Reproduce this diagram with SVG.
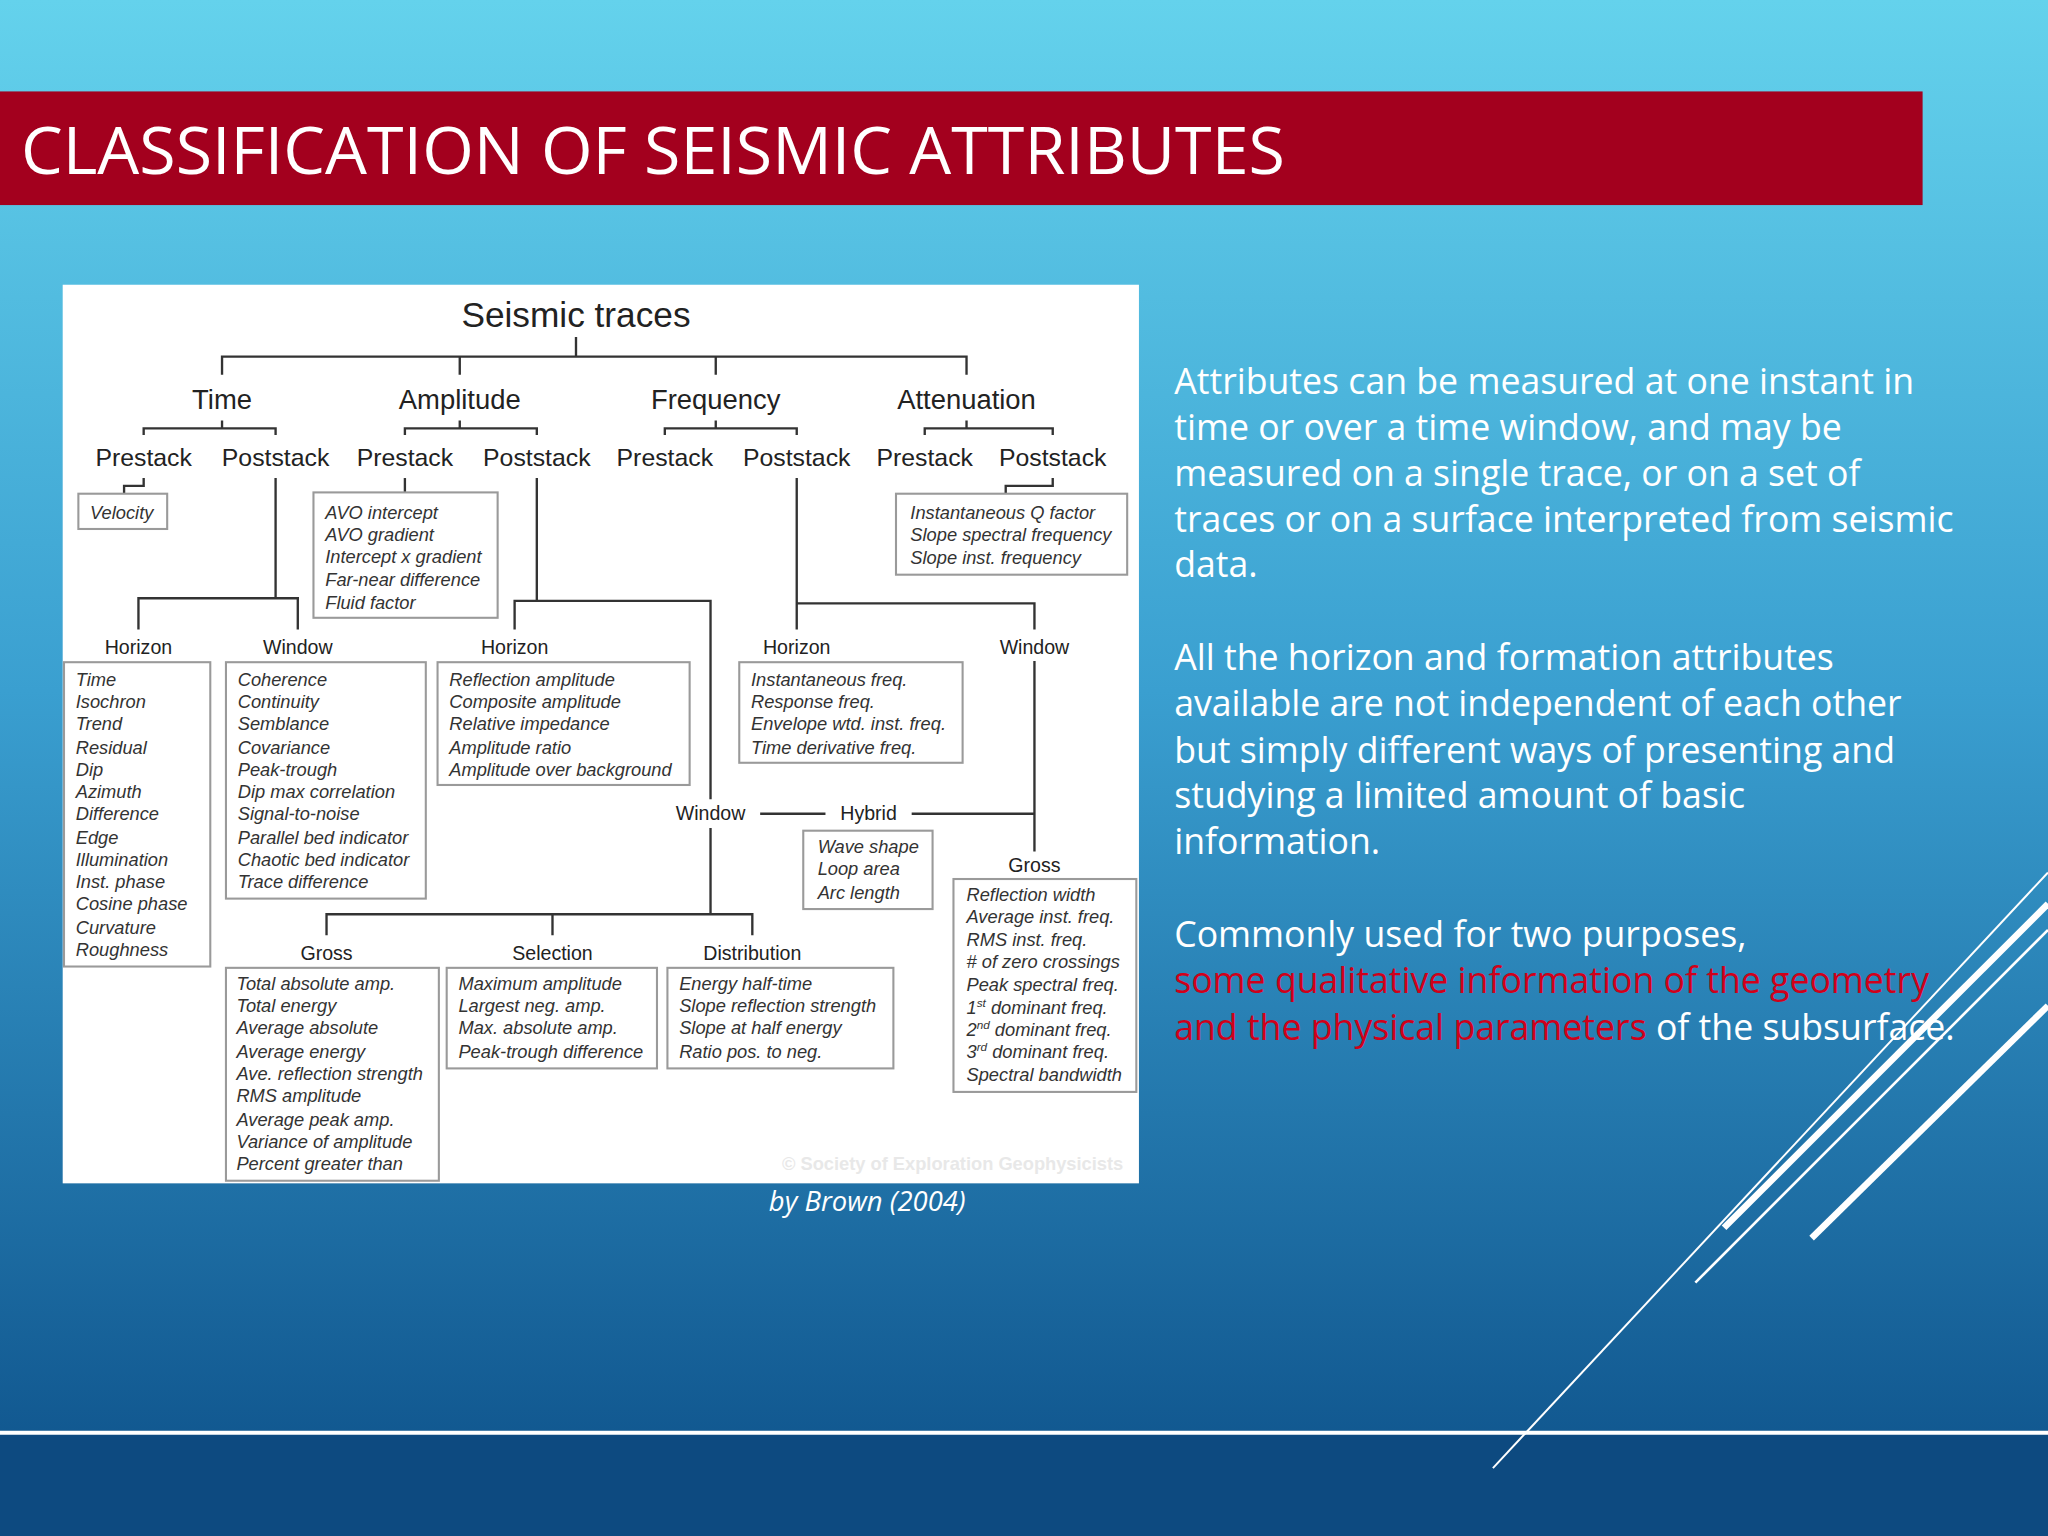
<svg xmlns="http://www.w3.org/2000/svg" width="2048" height="1536" viewBox="0 0 2048 1536">
<defs>
<linearGradient id="bg" x1="0" y1="0" x2="0" y2="1">
<stop offset="0" stop-color="#64d2ec"/><stop offset="0.45" stop-color="#3a9fd0"/><stop offset="1" stop-color="#0c4f88"/>
</linearGradient>
<style>
.d{font-family:"Liberation Sans",Arial,sans-serif;fill:#222}
.i{font-family:"Liberation Sans",Arial,sans-serif;font-style:italic;font-size:14px;fill:#333}
.b{fill:none;stroke:#9a9a9a;stroke-width:1.6}
.c{fill:none;stroke:#333;stroke-width:1.8}
.w{font-family:"Open Sans","Noto Sans",sans-serif;fill:#fff}
</style>
</defs>
<rect width="2048" height="1536" fill="url(#bg)"/>
<g transform="scale(1.30612)">
<rect x="0" y="1098" width="1568" height="80" fill="#0d4a80"/>
<line x1="0" y1="1097" x2="1568" y2="1097" stroke="#fff" stroke-width="3"/>
<g stroke="#fff" fill="none">
<line x1="1143" y1="1124" x2="1568" y2="668" stroke-width="1.5"/>
<line x1="1320" y1="940" x2="1568" y2="692" stroke-width="5"/>
<line x1="1298" y1="982" x2="1568" y2="712" stroke-width="2"/>
<line x1="1387" y1="948" x2="1568" y2="770" stroke-width="5"/>
</g>
<rect x="0" y="70" width="1472" height="87" fill="#a3001e"/>
<text class="w" x="16" y="133" font-size="50.8">CLASSIFICATION OF SEISMIC ATTRIBUTES</text>
<g class="w" font-size="27.3">
<text x="899" y="302">Attributes can be measured at one instant in</text>
<text x="899" y="337">time or over a time window, and may be</text>
<text x="899" y="372">measured on a single trace, or on a set of</text>
<text x="899" y="407">traces or on a surface interpreted from seismic</text>
<text x="899" y="442">data.</text>
<text x="899" y="513">All the horizon and formation attributes</text>
<text x="899" y="548">available are not independent of each other</text>
<text x="899" y="584">but simply different ways of presenting and</text>
<text x="899" y="619">studying a limited amount of basic</text>
<text x="899" y="654">information.</text>
<text x="899" y="725">Commonly used for two purposes,</text>
<text x="899" y="760" fill="#d0001a">some qualitative information of the geometry</text>
<text x="899" y="796"><tspan fill="#d0001a">and the physical parameters</tspan> of the subsurface.</text>
</g>
<text class="w" x="664" y="927" font-size="21" font-style="italic" text-anchor="middle">by Brown (2004)</text>
<rect x="48" y="218" width="824" height="688" fill="#fff"/>
<text x="860" y="896" font-family="Liberation Sans,Arial,sans-serif" font-weight="bold" font-size="14" fill="#e8e8e8" text-anchor="end">© Society of Exploration Geophysicists</text>
<g id="connectors" class="c">
<path d="M441 258V273M170 287V273H740V287M352 273V287M548 273V287"/>
<path d="M110 333V328H211V333M170 322V328M310 333V328H411V333M352 322V328M509 333V328H610V333M548 322V328M708 333V328H806V333M740 322V328"/>
<path d="M110 366V372H95V378"/><path d="M310 366V377"/><path d="M806 366V372H770V378"/>
<path d="M211 366V458M106 482V458H228V482"/>
<path d="M411 366V460M394 482V460H544V612"/>
<path d="M610 366V482M610 462H792V482M792 506V652"/>
<path d="M582 623H632M698 623H792"/>
<path d="M544 634V700M250 716V700H576V716M423 700V716"/>
</g>
<g class="d" text-anchor="middle">
<text x="441" y="250" font-size="27">Seismic traces</text>
<g font-size="21"><text x="170" y="313">Time</text><text x="352" y="313">Amplitude</text><text x="548" y="313">Frequency</text><text x="740" y="313">Attenuation</text></g>
<g font-size="19"><text x="110" y="357">Prestack</text><text x="211" y="357">Poststack</text><text x="310" y="357">Prestack</text><text x="411" y="357">Poststack</text><text x="509" y="357">Prestack</text><text x="610" y="357">Poststack</text><text x="708" y="357">Prestack</text><text x="806" y="357">Poststack</text></g>
<g font-size="15"><text x="106" y="501">Horizon</text><text x="228" y="501">Window</text><text x="394" y="501">Horizon</text><text x="610" y="501">Horizon</text><text x="792" y="501">Window</text><text x="544" y="628">Window</text><text x="665" y="628">Hybrid</text><text x="792" y="668">Gross</text><text x="250" y="735">Gross</text><text x="423" y="735">Selection</text><text x="576" y="735">Distribution</text></g>
</g>
<g id="velocity"><rect class="b" x="60" y="378" width="68" height="27"/><text class="i" x="69" y="397">Velocity</text></g>
<g id="avo"><rect class="b" x="240" y="377" width="141" height="96"/><text class="i"><tspan x="249" y="397">AVO intercept</tspan><tspan x="249" y="414">AVO gradient</tspan><tspan x="249" y="431">Intercept x gradient</tspan><tspan x="249" y="449">Far-near difference</tspan><tspan x="249" y="466">Fluid factor</tspan></text></g>
<g id="atten"><rect class="b" x="686" y="378" width="177" height="62"/><text class="i"><tspan x="697" y="397">Instantaneous Q factor</tspan><tspan x="697" y="414">Slope spectral frequency</tspan><tspan x="697" y="432">Slope inst. frequency</tspan></text></g>
<g id="timehorizon"><rect class="b" x="49" y="507" width="112" height="233"/><text class="i"><tspan x="58" y="525">Time</tspan><tspan x="58" y="542">Isochron</tspan><tspan x="58" y="559">Trend</tspan><tspan x="58" y="577">Residual</tspan><tspan x="58" y="594">Dip</tspan><tspan x="58" y="611">Azimuth</tspan><tspan x="58" y="628">Difference</tspan><tspan x="58" y="646">Edge</tspan><tspan x="58" y="663">Illumination</tspan><tspan x="58" y="680">Inst. phase</tspan><tspan x="58" y="697">Cosine phase</tspan><tspan x="58" y="715">Curvature</tspan><tspan x="58" y="732">Roughness</tspan></text></g>
<g id="timewindow"><rect class="b" x="173" y="507" width="153" height="181"/><text class="i"><tspan x="182" y="525">Coherence</tspan><tspan x="182" y="542">Continuity</tspan><tspan x="182" y="559">Semblance</tspan><tspan x="182" y="577">Covariance</tspan><tspan x="182" y="594">Peak-trough</tspan><tspan x="182" y="611">Dip max correlation</tspan><tspan x="182" y="628">Signal-to-noise</tspan><tspan x="182" y="646">Parallel bed indicator</tspan><tspan x="182" y="663">Chaotic bed indicator</tspan><tspan x="182" y="680">Trace difference</tspan></text></g>
<g id="amphorizon"><rect class="b" x="335" y="507" width="193" height="94"/><text class="i"><tspan x="344" y="525">Reflection amplitude</tspan><tspan x="344" y="542">Composite amplitude</tspan><tspan x="344" y="559">Relative impedance</tspan><tspan x="344" y="577">Amplitude ratio</tspan><tspan x="344" y="594">Amplitude over background</tspan></text></g>
<g id="freqhorizon"><rect class="b" x="566" y="507" width="171" height="77"/><text class="i"><tspan x="575" y="525">Instantaneous freq.</tspan><tspan x="575" y="542">Response freq.</tspan><tspan x="575" y="559">Envelope wtd. inst. freq.</tspan><tspan x="575" y="577">Time derivative freq.</tspan></text></g>
<g id="hybrid"><rect class="b" x="615" y="636" width="99" height="60"/><text class="i"><tspan x="626" y="653">Wave shape</tspan><tspan x="626" y="670">Loop area</tspan><tspan x="626" y="688">Arc length</tspan></text></g>
<g id="freqgross"><rect class="b" x="730" y="673" width="140" height="163"/><text class="i"><tspan x="740" y="690">Reflection width</tspan><tspan x="740" y="707">Average inst. freq.</tspan><tspan x="740" y="724">RMS inst. freq.</tspan><tspan x="740" y="741"># of zero crossings</tspan><tspan x="740" y="759">Peak spectral freq.</tspan><tspan x="740" y="776">1<tspan font-size="9" dy="-5">st</tspan><tspan dy="5"> dominant freq.</tspan></tspan><tspan x="740" y="793">2<tspan font-size="9" dy="-5">nd</tspan><tspan dy="5"> dominant freq.</tspan></tspan><tspan x="740" y="810">3<tspan font-size="9" dy="-5">rd</tspan><tspan dy="5"> dominant freq.</tspan></tspan><tspan x="740" y="828">Spectral bandwidth</tspan></text></g>
<g id="gross"><rect class="b" x="173" y="741" width="163" height="163"/><text class="i"><tspan x="181" y="758">Total absolute amp.</tspan><tspan x="181" y="775">Total energy</tspan><tspan x="181" y="792">Average absolute</tspan><tspan x="181" y="810">Average energy</tspan><tspan x="181" y="827">Ave. reflection strength</tspan><tspan x="181" y="844">RMS amplitude</tspan><tspan x="181" y="862">Average peak amp.</tspan><tspan x="181" y="879">Variance of amplitude</tspan><tspan x="181" y="896">Percent greater than</tspan></text></g>
<g id="selection"><rect class="b" x="342" y="741" width="161" height="77"/><text class="i"><tspan x="351" y="758">Maximum amplitude</tspan><tspan x="351" y="775">Largest neg. amp.</tspan><tspan x="351" y="792">Max. absolute amp.</tspan><tspan x="351" y="810">Peak-trough difference</tspan></text></g>
<g id="distribution"><rect class="b" x="511" y="741" width="173" height="77"/><text class="i"><tspan x="520" y="758">Energy half-time</tspan><tspan x="520" y="775">Slope reflection strength</tspan><tspan x="520" y="792">Slope at half energy</tspan><tspan x="520" y="810">Ratio pos. to neg.</tspan></text></g>
</g>
</svg>
